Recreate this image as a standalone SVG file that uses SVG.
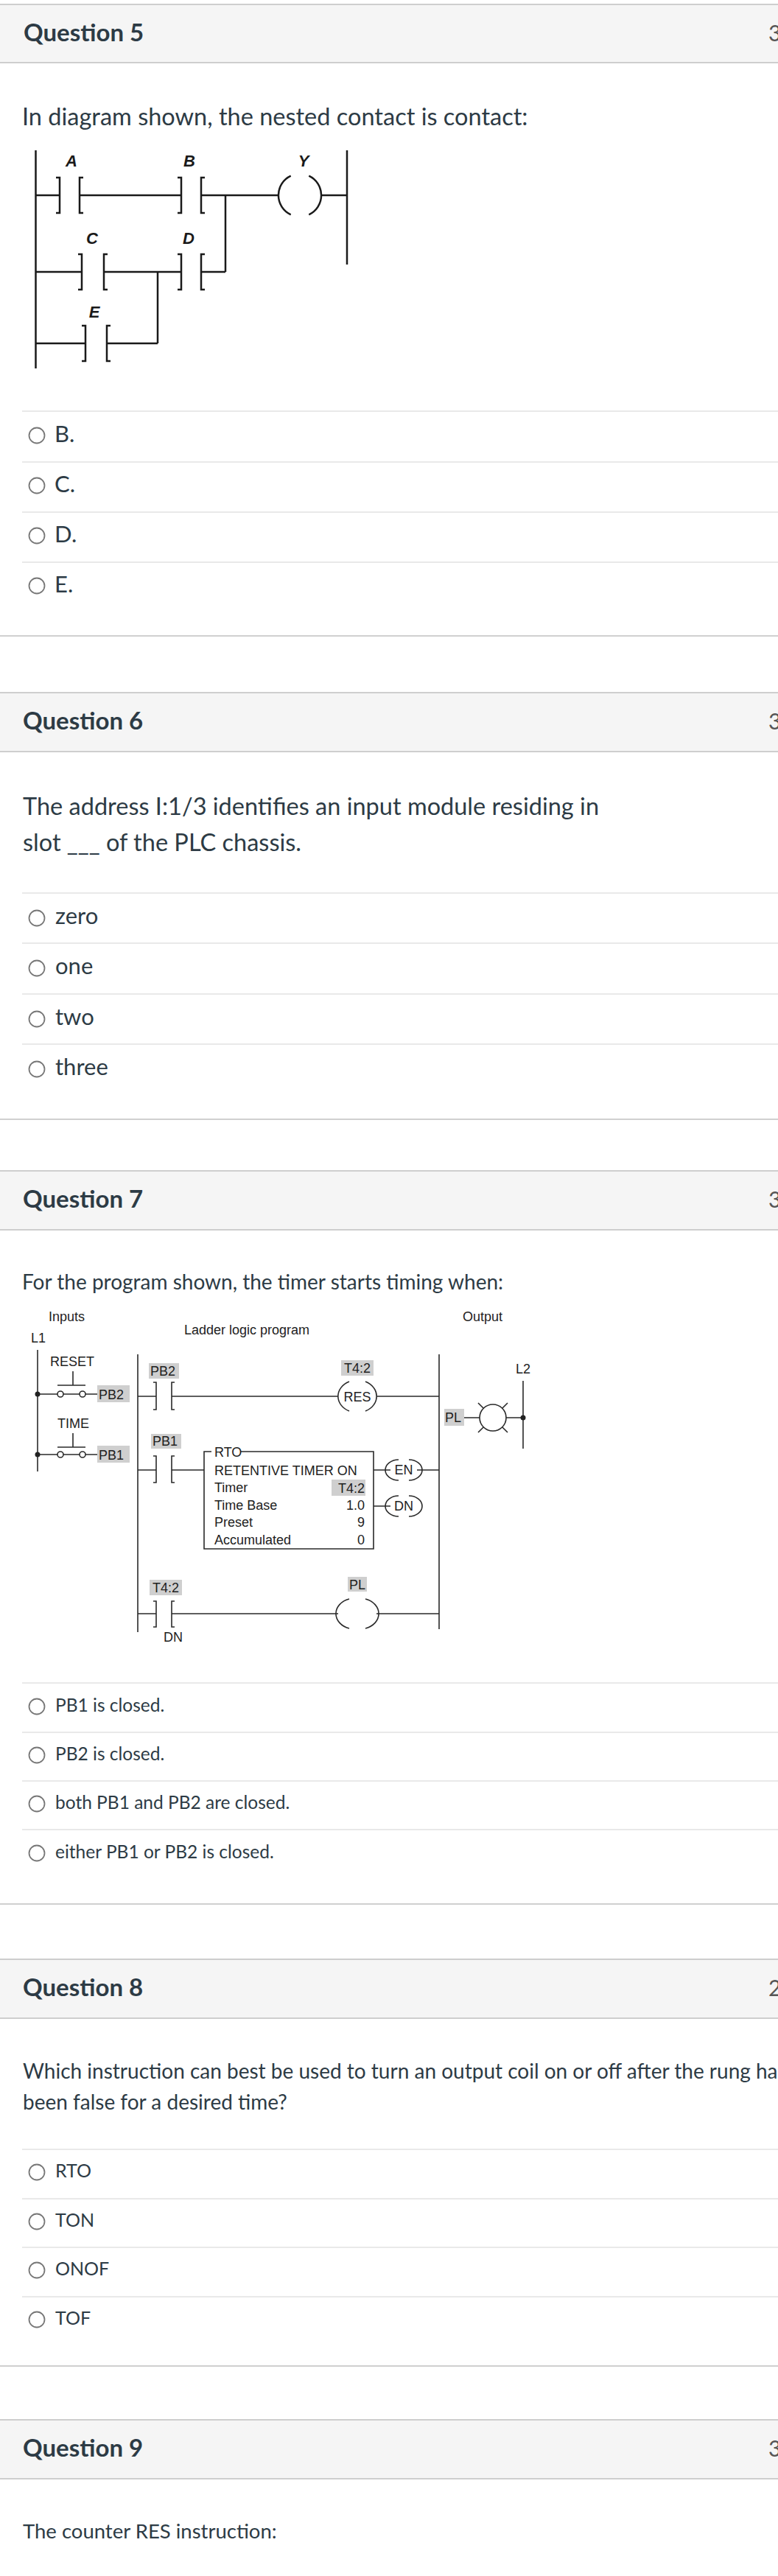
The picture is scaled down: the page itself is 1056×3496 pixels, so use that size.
<svg xmlns="http://www.w3.org/2000/svg" width="1056" height="3496" viewBox="0 0 1056 3496">
<style>
.hdr{fill:#f5f5f5;stroke:#c0c0c0;stroke-width:1.5}
.ht{font-family:Lato,"Open Sans",sans-serif;font-weight:bold;font-size:33px;fill:#2d3b45}
.pts{font-family:Lato,sans-serif;font-size:30px;fill:#555}
.q{font-family:Lato,"Open Sans",sans-serif;fill:#2d3b45}
.sep{stroke:#e2e2e2;stroke-width:1.5}
.sec{stroke:#c0c0c0;stroke-width:1.5}
.rad{fill:#fff;stroke:#777;stroke-width:1.8}
.w{stroke:#1a1a1a;stroke-width:2.5;fill:none}
.lb{font-family:"Liberation Sans",Arial,sans-serif;font-weight:bold;font-style:italic;font-size:22px;fill:#1a1a1a;text-anchor:middle}
.w2{stroke:#2a2a2a;stroke-width:1.6;fill:none}
.s{font-family:"Liberation Sans",Arial,sans-serif;font-size:18px;fill:#222}
.gb{fill:#cfcfcf}
</style>
<rect width="1056" height="3496" fill="#fff"/>

<!-- Question 5 -->
<g id="q5">
<rect class="hdr" x="-2" y="6" width="1060" height="79"/>
<text class="ht" x="32" y="56">Question 5</text>
<text class="pts" x="1043" y="56">3</text>
<text class="q" x="30" y="170" font-size="32.5">In diagram shown, the nested contact is contact:</text>
</g>
<g id="q5-diagram">
<g class="w">
<path d="M48.5,204V500M471,204V359"/>
<path d="M48.5,265H81M108,265H246M273,265H378M436,265H471"/>
<path d="M76,241H81V289H76M113,241H108V289H113"/>
<path d="M241,241H246V289H241M278,241H273V289H278"/>
<path d="M394.7,238.7A29,29 0 0 0 394.7,291.3M419.3,238.7A29,29 0 0 1 419.3,291.3"/>
<path d="M306,265V369M48.5,369H111M141,369H246M273,369H306"/>
<path d="M106,345H111V393H106M146,345H141V393H146"/>
<path d="M241,345H246V393H241M278,345H273V393H278"/>
<path d="M214,369V466M48.5,466H116M145,466H214"/>
<path d="M111,442H116V490H111M150,442H145V490H150"/>
</g>
<text class="lb" x="97" y="226">A</text>
<text class="lb" x="257" y="226">B</text>
<text class="lb" x="412" y="226">Y</text>
<text class="lb" x="125" y="331">C</text>
<text class="lb" x="256" y="331">D</text>
<text class="lb" x="128" y="431">E</text>
</g>
<g id="q5-options">
<line class="sep" x1="30" y1="558" x2="1056" y2="558"/>
<line class="sep" x1="30" y1="627" x2="1056" y2="627"/>
<line class="sep" x1="30" y1="695" x2="1056" y2="695"/>
<line class="sep" x1="30" y1="763" x2="1056" y2="763"/>
<circle class="rad" cx="50" cy="591" r="10.5"/><text class="q" x="74" y="600" font-size="31">B.</text>
<circle class="rad" cx="50" cy="659" r="10.5"/><text class="q" x="74" y="668" font-size="31">C.</text>
<circle class="rad" cx="50" cy="727" r="10.5"/><text class="q" x="74" y="736" font-size="31">D.</text>
<circle class="rad" cx="50" cy="795" r="10.5"/><text class="q" x="74" y="804" font-size="31">E.</text>
<line class="sec" x1="0" y1="863" x2="1056" y2="863"/>
</g>

<!-- Question 6 -->
<g id="q6">
<rect class="hdr" x="-2" y="940" width="1060" height="80"/>
<text class="ht" x="31" y="990">Question 6</text>
<text class="pts" x="1043" y="990">3</text>
<text class="q" x="31" y="1106" font-size="32.5">The address I:1/3 identifies an input module residing in</text>
<text class="q" x="31" y="1155" font-size="32.5">slot ___ of the PLC chassis.</text>
<line class="sep" x1="30" y1="1212" x2="1056" y2="1212"/>
<line class="sep" x1="30" y1="1280" x2="1056" y2="1280"/>
<line class="sep" x1="30" y1="1349" x2="1056" y2="1349"/>
<line class="sep" x1="30" y1="1417" x2="1056" y2="1417"/>
<circle class="rad" cx="50" cy="1246" r="10.5"/><text class="q" x="75" y="1254" font-size="31">zero</text>
<circle class="rad" cx="50" cy="1314" r="10.5"/><text class="q" x="75" y="1322" font-size="31">one</text>
<circle class="rad" cx="50" cy="1383" r="10.5"/><text class="q" x="75" y="1391" font-size="31">two</text>
<circle class="rad" cx="50" cy="1451" r="10.5"/><text class="q" x="75" y="1459" font-size="31">three</text>
<line class="sec" x1="0" y1="1519" x2="1056" y2="1519"/>
</g>

<!-- Question 7 -->
<g id="q7">
<rect class="hdr" x="-2" y="1589" width="1060" height="80"/>
<text class="ht" x="31" y="1639">Question 7</text>
<text class="pts" x="1043" y="1639">3</text>
<text class="q" x="30" y="1750" font-size="28">For the program shown, the timer starts timing when:</text>
</g>
<g id="q7-diagram">
<text class="s" x="66" y="1793">Inputs</text>
<text class="s" x="628" y="1793">Output</text>
<text class="s" x="250" y="1811">Ladder logic program</text>
<text class="s" x="42" y="1822" font-size="16">L1</text>
<text class="s" x="68" y="1854" font-size="19">RESET</text>
<text class="s" x="78" y="1938" font-size="19">TIME</text>
<text class="s" x="700" y="1864" font-size="17">L2</text>
<g class="w2">
<path d="M51,1832V1997"/>
<path d="M51,1892H78M86,1892H108M116,1892H132M78,1880H116M99,1861V1880"/>
<circle cx="82" cy="1892" r="4"/><circle cx="112" cy="1892" r="4"/>
<path d="M51,1974H78M86,1974H108M116,1974H132M78,1964H116M99,1945V1964"/>
<circle cx="82" cy="1974" r="4"/><circle cx="112" cy="1974" r="4"/>
<path d="M187,1838V2215M596,1838V2211"/>
<path d="M187,1895H212M233,1895H459M511,1895H596"/>
<path d="M208,1876H212V1913H208M237,1876H233V1913H237"/>
<path d="M474,1875A26,22 0 0 0 474,1915M496,1875A26,22 0 0 1 496,1915"/>
<path d="M187,1995H212M233,1995H277"/>
<path d="M208,1976H212V2012H208M237,1976H233V2012H237"/>
<path d="M287,1970H277V2102H507V1970H327"/>
<path d="M507,1995H530M566,1995H596M507,2044H530"/>
<path d="M541,1981A18,14 0 0 0 541,2009M555,1981A18,14 0 0 1 555,2009"/>
<path d="M541,2030A18,14 0 0 0 541,2058M555,2030A18,14 0 0 1 555,2058"/>
<path d="M187,2190H212M233,2190H459M511,2190H596"/>
<path d="M208,2173H212V2208H208M237,2173H233V2208H237"/>
<path d="M474,2170A26,21 0 0 0 474,2210M496,2170A26,21 0 0 1 496,2210"/>
<path d="M710,1874V1966M630,1924H651M687,1924H710"/>
<circle cx="669" cy="1924" r="18"/>
<path d="M681.7,1911.3L689,1904M656.3,1911.3L649,1904M681.7,1936.7L689,1944M656.3,1936.7L649,1944"/>
</g>
<circle cx="51" cy="1892" r="3.5" fill="#222"/>
<circle cx="51" cy="1974" r="3.5" fill="#222"/>
<circle cx="710" cy="1924" r="3.5" fill="#222"/>
<rect class="gb" x="132" y="1880" width="44" height="23"/><text class="s" x="134" y="1898.5" font-size="19">PB2</text>
<rect class="gb" x="132" y="1962" width="44" height="23"/><text class="s" x="134" y="1980.5" font-size="19">PB1</text>
<rect class="gb" x="202" y="1850" width="41" height="21"/><text class="s" x="204" y="1867">PB2</text>
<rect class="gb" x="463" y="1846" width="44" height="21"/><text class="s" x="485" y="1863" text-anchor="middle">T4:2</text>
<text class="s" x="485" y="1902" font-size="17" text-anchor="middle">RES</text>
<rect class="gb" x="205" y="1946" width="41" height="20"/><text class="s" x="207" y="1962">PB1</text>
<text class="s" x="291" y="1977">RTO</text>
<text class="s" x="291" y="2002">RETENTIVE TIMER ON</text>
<text class="s" x="291" y="2025">Timer</text>
<text class="s" x="291" y="2049">Time Base</text>
<text class="s" x="291" y="2072">Preset</text>
<text class="s" x="291" y="2096">Accumulated</text>
<rect class="gb" x="450" y="2008" width="46" height="22"/>
<text class="s" x="495" y="2026" text-anchor="end">T4:2</text>
<text class="s" x="495" y="2049" text-anchor="end">1.0</text>
<text class="s" x="495" y="2072" text-anchor="end">9</text>
<text class="s" x="495" y="2096" text-anchor="end">0</text>
<text class="s" x="548" y="2001" font-size="16" text-anchor="middle">EN</text>
<text class="s" x="548" y="2050" font-size="16" text-anchor="middle">DN</text>
<rect class="gb" x="203" y="2144" width="44" height="21"/><text class="s" x="225" y="2161" text-anchor="middle">T4:2</text>
<rect class="gb" x="472" y="2140" width="26" height="20"/><text class="s" x="485" y="2157" font-size="17" text-anchor="middle">PL</text>
<text class="s" x="235" y="2228" text-anchor="middle">DN</text>
<rect class="gb" x="603" y="1912" width="27" height="23"/><text class="s" x="604" y="1930">PL</text>
</g>
<g id="q7-options">
<line class="sep" x1="30" y1="2284" x2="1056" y2="2284"/>
<line class="sep" x1="30" y1="2351" x2="1056" y2="2351"/>
<line class="sep" x1="30" y1="2417" x2="1056" y2="2417"/>
<line class="sep" x1="30" y1="2483" x2="1056" y2="2483"/>
<circle class="rad" cx="50" cy="2316" r="10.5"/><text class="q" x="75" y="2323" font-size="24.5">PB1 is closed.</text>
<circle class="rad" cx="50" cy="2382" r="10.5"/><text class="q" x="75" y="2389" font-size="24.5">PB2 is closed.</text>
<circle class="rad" cx="50" cy="2448" r="10.5"/><text class="q" x="75" y="2455" font-size="24.5">both PB1 and PB2 are closed.</text>
<circle class="rad" cx="50" cy="2515" r="10.5"/><text class="q" x="75" y="2522" font-size="24.5">either PB1 or PB2 is closed.</text>
<line class="sec" x1="0" y1="2584" x2="1056" y2="2584"/>
</g>

<!-- Question 8 -->
<g id="q8">
<rect class="hdr" x="-2" y="2659" width="1060" height="80"/>
<text class="ht" x="31" y="2709">Question 8</text>
<text class="pts" x="1043" y="2709">2</text>
<text class="q" x="31" y="2821" font-size="28">Which instruction can best be used to turn an output coil on or off after the rung has</text>
<text class="q" x="31" y="2863" font-size="28">been false for a desired time?</text>
<line class="sep" x1="30" y1="2917" x2="1056" y2="2917"/>
<line class="sep" x1="30" y1="2984" x2="1056" y2="2984"/>
<line class="sep" x1="30" y1="3050" x2="1056" y2="3050"/>
<line class="sep" x1="30" y1="3117" x2="1056" y2="3117"/>
<circle class="rad" cx="50" cy="2948" r="10.5"/><text class="q" x="75" y="2955" font-size="25">RTO</text>
<circle class="rad" cx="50" cy="3015" r="10.5"/><text class="q" x="75" y="3022" font-size="25">TON</text>
<circle class="rad" cx="50" cy="3081" r="10.5"/><text class="q" x="75" y="3088" font-size="25">ONOF</text>
<circle class="rad" cx="50" cy="3148" r="10.5"/><text class="q" x="75" y="3155" font-size="25">TOF</text>
<line class="sec" x1="0" y1="3211" x2="1056" y2="3211"/>
</g>

<!-- Question 9 -->
<g id="q9">
<rect class="hdr" x="-2" y="3284" width="1060" height="80"/>
<text class="ht" x="31" y="3334">Question 9</text>
<text class="pts" x="1043" y="3334">3</text>
<text class="q" x="31" y="3445" font-size="27.5">The counter RES instruction:</text>
</g>
</svg>
